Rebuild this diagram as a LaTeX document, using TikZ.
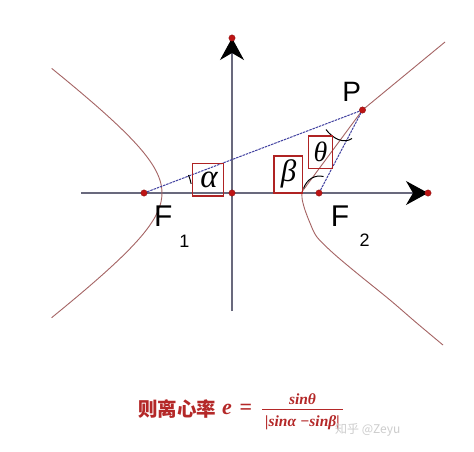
\RequirePackage{fix-cm}
\documentclass[tikz,border=0pt]{standalone}
\usepackage{fontspec}
\newfontfamily\arial{Liberation Sans}
\newfontfamily\cjk{Noto Sans CJK SC}
\newfontfamily\serf{Liberation Serif}
\usetikzlibrary{arrows.meta}
\definecolor{axisc}{RGB}{105,105,125}
\definecolor{hypc}{RGB}{165,100,100}
\definecolor{bluec}{RGB}{65,65,160}
\definecolor{dotc}{RGB}{190,20,20}
\definecolor{boxc}{RGB}{175,35,35}
\definecolor{formc}{RGB}{180,40,40}
\definecolor{wmc}{RGB}{205,205,205}
\tikzset{
  axisln/.style={draw=axisc, line width=1.1pt, -{Stealth[length=22pt,width=24pt,inset=7pt,color=black]}},
  hypln/.style={draw=hypc, line width=0.9pt},
  blueln/.style={draw=bluec, line width=1pt, dash pattern=on 2.5pt off 0.9pt},
  arcln/.style={draw=black, line width=1pt},
  gbox/.style={draw=boxc, line width=1.3pt, inner sep=0pt},
  lab/.style={inner sep=0pt},
  greek/.style={inner sep=0pt, font=\serf\itshape\fontsize{#1}{#1}\selectfont},
  dotp/.style={fill=dotc, draw=dotc!70!black, line width=0.3pt},
  fbig/.style={inner sep=0pt, anchor=base, text=formc, font=\serf\bfseries\itshape\fontsize{22}{22}\selectfont},
  fsmall/.style={inner sep=0pt, anchor=base, text=formc, font=\serf\bfseries\itshape\fontsize{15.5}{15.5}\selectfont}
}
\begin{document}
\begin{tikzpicture}[x=1pt,y=-1pt]
\useasboundingbox (0,0) rectangle (474,451);
\fill[white] (0,0) rectangle (474,451);
% key points
\coordinate (O) at (232,193);
\coordinate (F1) at (144,193);
\coordinate (F2) at (319,193);
\coordinate (P) at (362.5,110);
\coordinate (V2) at (301.8,192);
\coordinate (Ytop) at (232,38);
\coordinate (Ybot) at (232,311);
\coordinate (Xl) at (81,193);
\coordinate (Xr) at (428,193);
\coordinate (H1) at (445,42);
% axes
\draw[axisln] (Xl) -- (Xr);
\draw[axisln] (Ybot) -- (Ytop);
% hyperbola, left branch
\draw[hypln] plot[smooth, variable=\t, domain=-1.6:1.6, samples=41] ({232-70*cosh(\t)}, {193-52.5*sinh(\t)});
% hyperbola, right branch
\draw[hypln] (H1) -- (P) -- (V2);
\draw[hypln] plot[smooth] coordinates {(301.8,192) (302.3,200) (305,210) (310,223) (316.7,236.7) (333,253) (356.7,273) (390,300) (416.7,323) (443,345)};
% focal radii
\draw[blueln] (F1) -- (P);
\draw[blueln] (F2) -- (P);
% angle marks
\draw[arcln] (F1) ++(-22:48) arc[start angle=-22, end angle=-11, radius=48];
\draw[arcln] (326,129.5) .. controls (333,139) and (344,144) .. (352,138.5);
\draw[arcln] (303.5,188.5) .. controls (307,179) and (315,174.5) .. (323.5,176.5);
% angle boxes
\node[gbox, minimum width=30.6pt, minimum height=32.7pt] (abox) at (208,179.7) {};
\node[gbox, minimum width=28.3pt, minimum height=37pt] (bbox) at (288.2,174.5) {};
\node[gbox, minimum width=24.4pt, minimum height=32.3pt] (tbox) at (320.5,152.2) {};
\node[greek=33] (alab) at (209,180) {α};
\node[greek=31] (blab) at (288.5,174) {β};
\node[greek=28] (tlab) at (320.5,152) {θ};
% points
\fill[dotp] (F1) circle[radius=3.2pt];
\fill[dotp] (F2) circle[radius=3.2pt];
\fill[dotp] (O) circle[radius=3.2pt];
\fill[dotp] (P) circle[radius=3.2pt];
\fill[dotp] (Xr) circle[radius=3.2pt];
\fill[dotp] (Ytop) circle[radius=3.2pt];
% labels
\node[lab, font=\arial\fontsize{28}{28}\selectfont] (Pl) at (351.7,91.7) {P};
\node[lab, font=\arial\fontsize{30}{30}\selectfont] (F1l) at (163.3,216) {F};
\node[lab, font=\arial\fontsize{18}{18}\selectfont] (n1) at (184.5,241.7) {1};
\node[lab, font=\arial\fontsize{30}{30}\selectfont] (F2l) at (340,216) {F};
\node[lab, font=\arial\fontsize{18}{18}\selectfont] (n2) at (364.7,240) {2};
% formula
\node[lab, anchor=west, text=formc, font=\cjk\bfseries\fontsize{19.5}{20}\selectfont] (zh) at (138,409) {则离心率};
\node[fbig] (fe) at (227,414) {e};
\node[fbig, font=\serf\bfseries\fontsize{22}{22}\selectfont] (feq) at (246,414) {=};
\coordinate (barL) at (262,409);
\coordinate (barR) at (343,409);
\draw[formc, line width=0.8pt] (barL) -- (barR);
\node[fsmall] (fnum) at (302.5,404.5) {sinθ};
\node[fsmall] (fden) at (302.5,426) {|sinα −sinβ|};
% watermark
\node[lab, anchor=west, text=wmc, font=\cjk\fontsize{12}{12}\selectfont] (wm) at (335,430) {知乎 @Zeyu};
\end{tikzpicture}
\end{document}
